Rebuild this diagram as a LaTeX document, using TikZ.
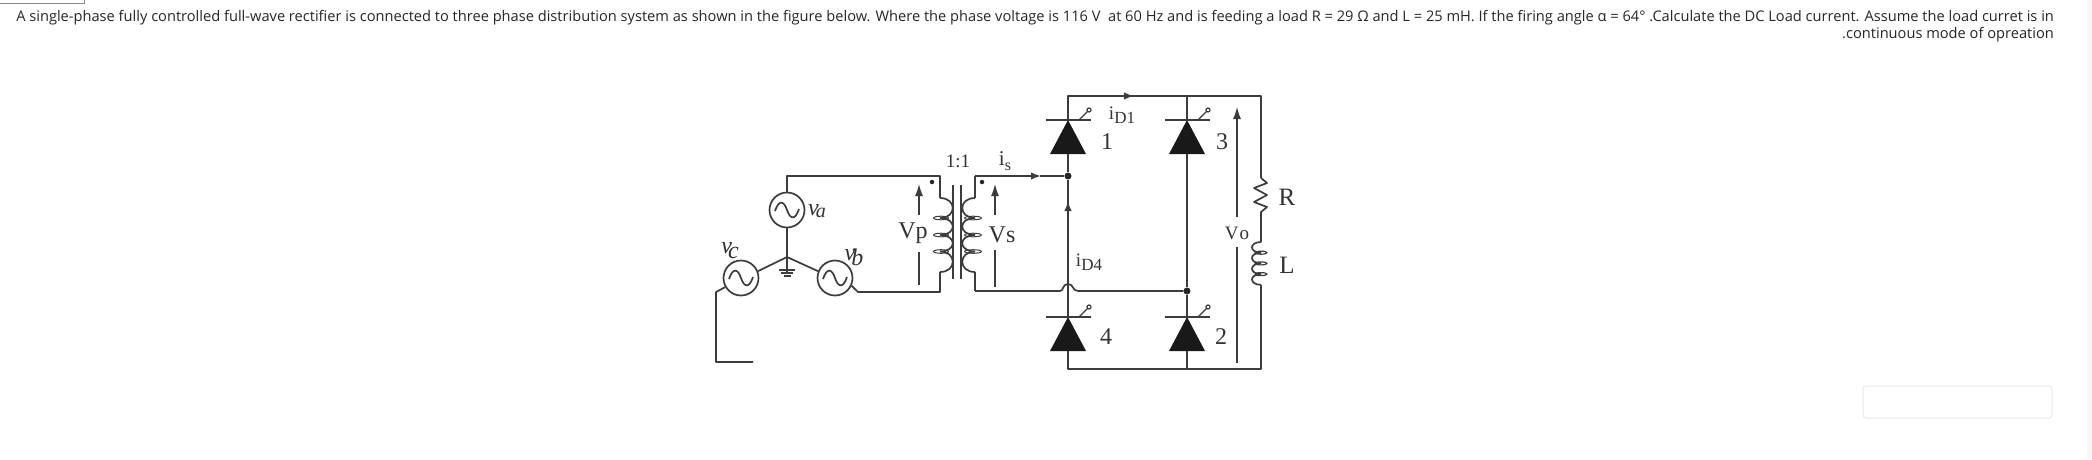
\documentclass[tikz,border=0pt]{standalone}
\usepackage{fontspec}
\setmainfont{Open Sans}
\newfontfamily\lsf{Liberation Serif}
\usetikzlibrary{arrows.meta}
\definecolor{wire}{HTML}{3C3C3C}
\definecolor{txt}{HTML}{333333}
\tikzset{
 wr/.style={draw=wire,line width=1.7pt,line join=round},
 tip/.style={-{Latex[length=10pt,width=7.5pt]}},
 vtip/.style={-{Latex[length=12pt,width=8pt]}},
 src/.style={circle,draw=wire,line width=1.7pt,minimum size=35pt,inner sep=0pt,fill=white},
 dot/.style={circle,fill=black!85,minimum size=7pt,inner sep=0pt},
 tdot/.style={circle,fill=black!85,minimum size=4.5pt,inner sep=0pt},
 lab/.style={font=\fontsize{24}{26}\lsf,text=txt,inner sep=0pt},
 labs/.style={font=\fontsize{19}{21}\lsf,text=txt,inner sep=0pt},
 labi/.style={font=\fontsize{24}{26}\lsf\itshape,text=txt,inner sep=0pt},
 head/.style={font=\fontsize{14.63}{17}\selectfont,text=black!85,inner sep=0pt},
}
\newcommand{\thy}[3]{% name, x, bar y
 \coordinate (#1c) at (#2,#3);
 \coordinate (#1a) at (#2,#3+34);
 \fill[black!90] (#2,#3) -- (#2-18,#3+34) -- (#2+18,#3+34) -- cycle;
 \draw[wr] (#2-22,#3) -- (#2+23,#3);
 \draw[wr,line width=1.2pt] (#2+11,#3) -- (#2+20,#3-9);
 \draw[wr,line width=1.2pt] (#2+21,#3-10) circle (2pt);
}
\newcommand{\sinew}[1]{%
 \draw[wr,shift={(#1.center)}] (-12,1) .. controls (-8,-11) and (-3,-9) .. (0,0) .. controls (3,9) and (8,11) .. (12,-1);
}
\begin{document}
\begin{tikzpicture}[x=1pt,y=-1pt]
\useasboundingbox (0,0) rectangle (2092,459);
\fill[white] (0,0) rectangle (2092,459);
\fill[black!3] (2087,0) rectangle (2092,459);
% page furniture
\draw[black!45,line width=.8pt] (0,3.5) -- (84,3.5) -- (84,0);
\draw[black!9,line width=1pt,rounded corners=3pt] (1863,386) rectangle (2052,418);
% heading
\node[head,anchor=base east] (t1) at (2054,21) {A single-phase fully controlled full-wave rectifier is connected to three phase distribution system as shown in the figure below. Where the phase voltage is 116 V\ \ at 60 Hz and is feeding a load R = 29 Ω and L = 25 mH. If the firing angle α = 64° .Calculate the DC Load current. Assume the load curret is in};
\node[head,anchor=base east] (t2) at (2054,38) {.continuous mode of opreation};
% sources
\coordinate (n) at (787,257);
\coordinate (gnd) at (787,272);
\node[src] (va) at (787,210) {};
\node[src] (vb) at (835,278) {};
\node[src] (vc) at (741,278) {};
\coordinate (ptop) at (940,176);
\coordinate (pbot) at (940,292);
\coordinate (stop) at (975,176);
\coordinate (sbot) at (975,291);
\node[dot] (j1) at (1068,176) {};
\node[dot] (j2) at (1187,291) {};
\coordinate (vcA) at (716,362);
\coordinate (vcB) at (753,362);
\draw[wr] (va.north) |- (ptop) -- (940,198);
\draw[wr] (va.south) -- (n);
\draw[wr] (n) -- (vb.158);
\draw[wr] (n) -- (vc.22);
\draw[wr] (n) -- (gnd);
\draw[wr,line width=1.3pt] (779,270) -- (795,270) (781,273) -- (793,273) (783.5,276) -- (790.5,276);
\draw[wr] (vb.-25) -- (858,292) -- (pbot) -- (940,272);
\draw[wr] (vc.-150) -- (716,292) -- (vcA) -- (vcB);
\sinew{va}\sinew{vb}\sinew{vc}
\node[labi] (lva) at (817,211) {v\kern-3pt\raisebox{-2pt}{\fontsize{20}{22}\selectfont a}};
\node[labi] (lvb) at (854,257) {v\kern-4pt\raisebox{-5pt}{b}};
\node[labi] (lvc) at (730,251) {v\kern-4pt\raisebox{-5pt}{c}};
% transformer
\foreach \yy/\h in {198/20,218/17,235/16.5,251.5/20.5}{
 \draw[wr] (940,\yy) .. controls (957,\yy) and (957,\yy+\h) .. (940,\yy+\h);
 \draw[wr] (975,\yy) .. controls (958,\yy) and (958,\yy+\h) .. (975,\yy+\h);
}
\foreach \yy in {218,235,251.5}{
 \draw[wr,line width=1pt] (941,\yy) ellipse (7.5pt and 1.8pt);
 \draw[wr,line width=1pt] (973,\yy) ellipse (8.5pt and 1.8pt);
}
\draw[wr] (953,185) -- (953,279) (961,185) -- (961,279);
\draw[wr] (stop) -- (975,198) (975,272) -- (sbot);
\node[tdot] (d1) at (932,182) {};
\node[tdot] (d2) at (982,182) {};
\draw[wr,tip] (stop) -- (1041,176);
\draw[wr] (1040,176) -- (j1);
\draw[wr] (sbot) -- (1060,291) .. controls (1064,291) and (1062,284) .. (1068,284) .. controls (1074,284) and (1072,291) .. (1078,291) -- (j2);
% voltage arrows
\coordinate (vpb) at (919,285); \coordinate (vpm) at (919,252);
\coordinate (vpu) at (919,215); \coordinate (vpt) at (919,184);
\draw[wr,line width=1.2pt] (vpb) -- (vpm);
\draw[wr,line width=1.2pt,vtip] (vpu) -- (vpt);
\coordinate (vsb) at (995,287); \coordinate (vsm) at (995,250);
\coordinate (vsu) at (995,215); \coordinate (vst) at (995,184);
\draw[wr,line width=1.2pt] (vsb) -- (vsm);
\draw[wr,line width=1.2pt,vtip] (vsu) -- (vst);
\node[lab] (vp) at (913,233) {Vp};
\node[lab] (vs) at (1002,235) {Vs};
\node[labs] (ratio) at (958,161) {1:1};
\node[labs,font=\fontsize{21}{23}\lsf] (is) at (1005,161) {i\raisebox{-5pt}{\fontsize{16}{17}\selectfont s}};
% bridge
\thy{t1}{1068}{120}
\thy{t3}{1187}{120}
\thy{t4}{1068}{317}
\thy{t2}{1187}{317}
\coordinate (tl) at (1068,96); \coordinate (tr) at (1261,96);
\coordinate (ml) at (1187,96);
\coordinate (bl) at (1068,369); \coordinate (br) at (1261,369); \coordinate (bm) at (1187,369);
\draw[wr] (t1c) -- (tl) -- (tr) -- (1261,178);
\draw[wr] (t3c) -- (ml);
\draw[wr] (t1a) -- (j1);
\draw[wr,tip] (t4c) -- (1068,201);
\draw[wr] (1068,205) -- (j1);
\draw[wr] (t3a) -- (j2) -- (t2c);
\draw[wr] (t4a) -- (bl) -- (br) -- (1261,285);
\draw[wr] (t2a) -- (bm);
\draw[wr,tip] (1088,96) -- (1134,96);
% load
\draw[wr] (1261,178) -- (1267,183) -- (1254,188) -- (1267,195) -- (1254,202) -- (1267,207) -- (1261,212) -- (1261,242);
\foreach \yy in {242,252.7,263.4,274.1}{
 \draw[wr] (1261,\yy) .. controls (1249,\yy) and (1249,\yy+10.7) .. (1261,\yy+10.7);
}
\foreach \yy in {252.7,263.4,274.1}{
 \draw[wr,line width=1.2pt] (1261,\yy) ellipse (6pt and 1.5pt);
}
\coordinate (vob) at (1237,363); \coordinate (vom) at (1237,247);
\coordinate (vou) at (1237,217); \coordinate (vot) at (1237,107);
\draw[wr,line width=1.2pt] (vob) -- (vom);
\draw[wr,line width=1.2pt,vtip] (vou) -- (vot);
\node[lab,font=\fontsize{19}{21}\lsf] (vo) at (1237,233) {V\kern1pt o};
\node[lab,font=\fontsize{25}{27}\lsf] (lr) at (1287,197) {R};
\node[lab,font=\fontsize{25}{27}\lsf] (ll) at (1287,265) {L};
\node[lab] (n1) at (1107,142) {1};
\node[lab] (n3) at (1222,142) {3};
\node[lab] (n4) at (1106,337) {4};
\node[lab] (n2) at (1221,337) {2};
\node[labs] (id1) at (1122,115) {i\raisebox{-4pt}{\fontsize{17}{18}\selectfont D1}};
\node[labs] (id4) at (1089,262) {i\raisebox{-4pt}{\fontsize{17}{18}\selectfont D4}};
\end{tikzpicture}
\end{document}
